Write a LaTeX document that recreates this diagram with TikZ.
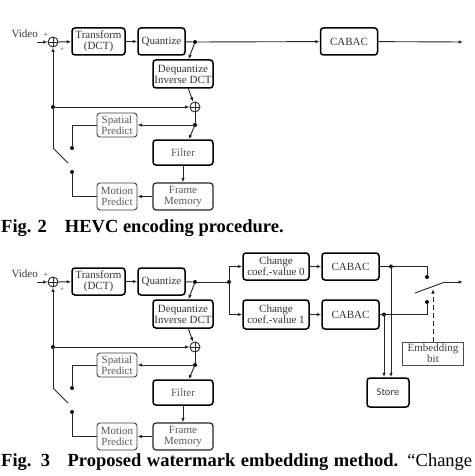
\documentclass[tikz,border=0pt]{standalone}
\usepackage{fontspec}
\setmainfont{Liberation Serif}
\newfontfamily\carl{Carlito}
\usetikzlibrary{arrows.meta}
\tikzset{
  blk/.style={draw=black, line width=1.5pt, rounded corners=3pt, font=\fontsize{11}{11}\selectfont, text=black!80, align=center, inner sep=0pt},
  thinblk/.style={blk, line width=0.9pt, draw=black!75, text=black!65},
  sqbox/.style={draw=black!70, line width=0.8pt, font=\fontsize{11}{11}\selectfont, text=black!75, align=center, inner sep=0pt},
  con/.style={line width=0.9pt, draw=black!85},
  arr/.style={con, -{Latex[length=4.5pt,width=3.5pt]}},
  sum/.style={circle, draw=black!85, line width=0.9pt, minimum size=10pt, inner sep=0pt,
    path picture={\draw[line width=0.8pt] (path picture bounding box.north) -- (path picture bounding box.south) (path picture bounding box.west) -- (path picture bounding box.east);}},
  dot/.style={circle, fill=black, minimum size=4pt, inner sep=0pt},
  lbl/.style={font=\fontsize{11}{11}\selectfont, text=black!80, inner sep=0pt}
}
\newcommand\encoderpart[2]{%
\begin{scope}[shift={(0,#2)}]
\node[blk, minimum width=53pt, minimum height=27pt] (#1tr) at (98.5,41.5) {Transform\\(DCT)};
\node[blk, minimum width=47pt, minimum height=27pt] (#1qz) at (161.5,41.5) {Quantize};
\node[blk, minimum width=60pt, minimum height=28pt] (#1dq) at (183,74) {Dequantize\\Inverse DCT};
\node[thinblk, minimum width=40pt, minimum height=24pt] (#1sp) at (117,125) {Spatial\\Predict};
\node[blk, minimum width=60pt, minimum height=25pt, text=black!65] (#1fl) at (183,152.5) {Filter};
\node[thinblk, minimum width=60pt, minimum height=27pt, line width=1.2pt, draw=black!85] (#1fm) at (183,196.5) {Frame\\Memory};
\node[thinblk, minimum width=40pt, minimum height=27pt] (#1mp) at (117,196.5) {Motion\\Predict};
\node[sum] (#1s1) at (53,42) {};
\node[sum] (#1s2) at (195,107) {};
\node[dot] (#1j1) at (195,42) {};
\node[dot] (#1j2) at (53,107) {};
\node[dot] (#1j3) at (195,125) {};
\node[dot] (#1d1) at (72,148) {};
\node[dot] (#1d2) at (72,172) {};
\node[lbl, anchor=base east] (#1vid) at (38,37.5) {Video};
\node[lbl, font=\fontsize{8}{8}\selectfont] (#1plus) at (46,35) {+};
\node[lbl, font=\fontsize{9}{9}\selectfont] (#1minus) at (62,50) {-};
\coordinate (#1vin) at (37,42);
\coordinate (#1sw) at (53,148);
\coordinate (#1swe) at (68,163);
\draw[arr] (#1vin) -- (#1s1);
\draw[arr] (#1s1) -- (#1tr);
\draw[arr] (#1tr) -- (#1qz);
\draw[con] (#1qz) -- (#1j1.center);
\draw[arr] (#1j1) -- (#1dq);
\draw[arr] (#1dq) -- (#1s2);
\draw[arr] (#1j2.center) -- (#1s2);
\draw[con] (#1s2) -- (#1j3.center);
\draw[arr] (#1j3.center) -- (#1sp);
\draw[arr] (#1j3.center) -- (#1fl);
\draw[arr] (#1fl) -- (#1fm);
\draw[arr] (#1fm) -- (#1mp);
\draw[con] (#1sp.west) -| (#1d1.center);
\draw[con] (#1mp.west) -| (#1d2.center);
\draw[arr] (#1sw) -- (#1s1);
\draw[con] (#1sw) -- (#1swe);
\end{scope}}
\begin{document}
\begin{tikzpicture}[x=1pt,y=-1pt]
\useasboundingbox (0,0) rectangle (474,476);
\fill[white] (0,0) rectangle (474,476);
% ---- Fig. 2 ----
\encoderpart{a}{0}
\node[blk, minimum width=57pt, minimum height=27pt] (cab) at (349,41.5) {CABAC};
\coordinate (out2) at (463,42);
\draw[arr] (aj1.center) -- (cab);
\draw[arr] (cab) -- (out2);
\node[anchor=base west, inner sep=0pt, font=\fontsize{18.5}{20}\selectfont\bfseries] (cap2) at (1,232.5) {Fig. 2\hspace{18pt}HEVC encoding procedure.};
% ---- Fig. 3 ----
\encoderpart{b}{240}
\node[dot] (bj4) at (229,282) {};
\node[blk, minimum width=66pt, minimum height=27pt] (c0) at (276,266.5) {Change\\coef.-value 0};
\node[blk, minimum width=66pt, minimum height=29pt] (c1) at (276,314.5) {Change\\coef.-value 1};
\node[blk, minimum width=57pt, minimum height=27pt] (k0) at (350.5,266.5) {CABAC};
\node[blk, minimum width=57pt, minimum height=29pt] (k1) at (350.5,314.5) {CABAC};
\node[dot] (e0) at (391,266.5) {};
\node[dot] (e1) at (384,314.5) {};
\node[dot] (w0) at (427,277) {};
\node[dot] (w1) at (427,302) {};
\coordinate (p0) at (415,293);
\coordinate (p1) at (445,282);
\coordinate (out3) at (463,282);
\coordinate (tip) at (433,289);
\node[sqbox, minimum width=61pt, minimum height=23pt] (eb) at (433,353.5) {Embedding\\bit};
\node[blk, minimum width=42pt, minimum height=29pt, font=\carl\fontsize{10.5}{11}\selectfont] (st) at (388,392.5) {Store};
\draw[con] (bj1.center) -- (bj4.center);
\draw[arr] (bj4.center) |- (c0);
\draw[arr] (bj4.center) |- (c1);
\draw[arr] (c0) -- (k0);
\draw[arr] (c1) -- (k1);
\draw[con] (k0) -- (e0.center) -| (w0.center);
\draw[con] (k1) -- (e1.center) -| (w1.center);
\draw[con] (p0) -- (p1);
\draw[arr] (p1) -- (out3);
\draw[arr, dashed, dash pattern=on 5pt off 3pt] (eb) -- (tip);
\draw[arr] (e0.center) -- (e0.center |- st.north);
\draw[arr] (e1.center) -- (e1.center |- st.north);
\node[anchor=base west, inner sep=0pt] (cap3) at (1,466) {\fontsize{18.5}{20}\selectfont\makebox[471pt][s]{\bfseries Fig. 3\hspace{12pt} Proposed watermark embedding method.\mdseries{} “Change}};
\end{tikzpicture}
\end{document}
